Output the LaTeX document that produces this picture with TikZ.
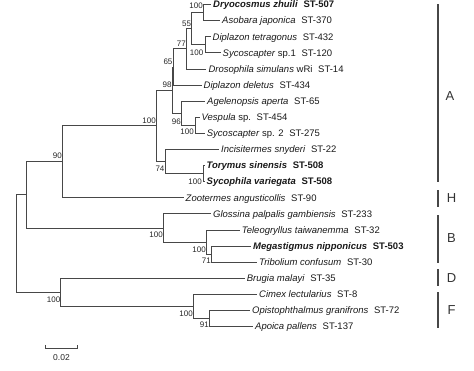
\documentclass[tikz,border=0pt]{standalone}
\usepackage{fontspec}
\setmainfont{Liberation Sans}
\newcommand\stgap{\hspace{0.6em}}
\begin{document}
\begin{tikzpicture}[x=1pt,y=-1pt,
  br/.style={draw=black!72, line width=0.8pt},
  leaf/.style={anchor=west, inner xsep=2pt, inner ysep=0pt, text height=6.6pt, text depth=0pt, font=\fontsize{9.5}{11}\selectfont, text=black!90},
  bleaf/.style={leaf, font=\fontsize{9.5}{11}\selectfont\bfseries},
  boot/.style={anchor=east, inner sep=0pt, font=\fontsize{8}{9}\selectfont, text=black!85},
  grp/.style={draw=black!72, line width=1.6pt},
  glab/.style={font=\fontsize{13}{15}\selectfont, text=black!80, inner sep=0pt}]
\useasboundingbox (0,0) rectangle (474,370);

% leaves
\node[bleaf] (L1)  at (211,4.5)   {\textit{Dryocosmus zhuili}\stgap ST-507};
\node[leaf]  (L2)  at (220,20.6)  {\textit{Asobara japonica}\stgap ST-370};
\node[leaf]  (L3)  at (210.5,36.7){\textit{Diplazon tetragonus}\stgap ST-432};
\node[leaf]  (L4)  at (220.5,52.8){\textit{Sycoscapter} sp.1\stgap ST-120};
\node[leaf]  (L5)  at (206.3,68.9){\textit{Drosophila simulans} wRi\stgap ST-14};
\node[leaf]  (L6)  at (201.5,85.0){\textit{Diplazon deletus}\stgap ST-434};
\node[leaf]  (L7)  at (205,101.1) {\textit{Agelenopsis aperta}\stgap ST-65};
\node[leaf]  (L8)  at (199.5,117.2){\textit{Vespula} sp.\stgap ST-454};
\node[leaf]  (L9)  at (204.7,133.3){\textit{Sycoscapter} sp. 2\stgap ST-275};
\node[leaf]  (L10) at (219,149.4) {\textit{Incisitermes snyderi}\stgap ST-22};
\node[bleaf] (L11) at (204.5,165.5){\textit{Torymus sinensis}\stgap ST-508};
\node[bleaf] (L12) at (204.5,181.6){\textit{Sycophila variegata}\stgap ST-508};
\node[leaf]  (L13) at (183.5,197.7){\textit{Zootermes angusticollis}\stgap ST-90};
\node[leaf]  (L14) at (211,213.8) {\textit{Glossina palpalis gambiensis}\stgap ST-233};
\node[leaf]  (L15) at (239.7,229.9){\textit{Teleogryllus taiwanemma}\stgap ST-32};
\node[bleaf] (L16) at (251,246.0) {\textit{Megastigmus nipponicus}\stgap ST-503};
\node[leaf]  (L17) at (257,262.1) {\textit{Tribolium confusum}\stgap ST-30};
\node[leaf]  (L18) at (244.7,278.2){\textit{Brugia malayi}\stgap ST-35};
\node[leaf]  (L19) at (257,294.3) {\textit{Cimex lectularius}\stgap ST-8};
\node[leaf]  (L20) at (250,310.4) {\textit{Opistophthalmus granifrons}\stgap ST-72};
\node[leaf]  (L21) at (253,326.5) {\textit{Apoica pallens}\stgap ST-137};

% internal nodes
\coordinate (A1)    at (203.3,12.55);
\coordinate (A2)    at (205,44.75);
\coordinate (n55)   at (191.7,28.65);
\coordinate (n77)   at (186.7,48.8);
\coordinate (n65)   at (173.2,66.9);
\coordinate (n100b) at (195,125.25);
\coordinate (n96)   at (181.7,113.2);
\coordinate (n98)   at (172.4,90.05);
\coordinate (n100c) at (203.3,173.55);
\coordinate (n74)   at (165,161.5);
\coordinate (nA)    at (156,125.8);
\coordinate (n90)   at (62.7,161.75);
\coordinate (nB3)   at (211.7,254.05);
\coordinate (nB2)   at (206.7,242);
\coordinate (nB)    at (163.3,227.9);
\coordinate (nAHB)  at (26.7,194.8);
\coordinate (nF2)   at (209.3,318.45);
\coordinate (nF)    at (193.3,306.4);
\coordinate (nDF)   at (60.7,292.3);
\coordinate (root)  at (16.7,243.5);

% branches
\draw[br] (root) |- (nAHB);  \draw[br] (root) |- (nDF);
\draw[br] (nAHB) |- (n90);   \draw[br] (nAHB) |- (nB);
\draw[br] (n90) |- (nA);     \draw[br] (n90) |- (L13);
\draw[br] (nA) |- (n98);     \draw[br] (nA) |- (n74);
\draw[br] (n98) |- (n65);    \draw[br] (n98) |- (n96);
\draw[br] (n65) |- (n77);    \draw[br] (n65) |- (L6);
\draw[br] (n77) |- (n55);    \draw[br] (n77) |- (L5);
\draw[br] (n55) |- (A1);     \draw[br] (n55) |- (A2);
\draw[br] (A1) |- (L1);      \draw[br] (A1) |- (L2);
\draw[br] (A2) |- (L3);      \draw[br] (A2) |- (L4);
\draw[br] (n96) |- (L7);     \draw[br] (n96) |- (n100b);
\draw[br] (n100b) |- (L8);   \draw[br] (n100b) |- (L9);
\draw[br] (n74) |- (L10);    \draw[br] (n74) |- (n100c);
\draw[br] (n100c) |- (L11);  \draw[br] (n100c) |- (L12);
\draw[br] (nB) |- (L14);     \draw[br] (nB) |- (nB2);
\draw[br] (nB2) |- (L15);    \draw[br] (nB2) |- (nB3);
\draw[br] (nB3) |- (L16);    \draw[br] (nB3) |- (L17);
\draw[br] (nDF) |- (L18);    \draw[br] (nDF) |- (nF);
\draw[br] (nF) |- (L19);     \draw[br] (nF) |- (nF2);
\draw[br] (nF2) |- (L20);    \draw[br] (nF2) |- (L21);

% bootstrap values
\node[boot] (bA1)   at (203,6.2)   {100};
\node[boot] (b55)   at (191.2,23.6){55};
\node[boot] (bA2)   at (203.5,53)  {100};
\node[boot] (b77)   at (186,43.5)  {77};
\node[boot] (b65)   at (172.6,61.6){65};
\node[boot] (b98)   at (171.8,84.6){98};
\node[boot] (bA)    at (156,120.8) {100};
\node[boot] (b96)   at (181,121.3) {96};
\node[boot] (b100b) at (194,132)   {100};
\node[boot] (b74)   at (164.6,169) {74};
\node[boot] (b100c) at (202,181.8) {100};
\node[boot] (b90)   at (62,155.5)  {90};
\node[boot] (bB)    at (163,235)   {100};
\node[boot] (bB2)   at (206,249.3) {100};
\node[boot] (bB3)   at (211,261)   {71};
\node[boot] (bDF)   at (60.5,300)  {100};
\node[boot] (bF)    at (193,313.3) {100};
\node[boot] (bF2)   at (209,325)   {91};

% scale bar
\coordinate (s0) at (45.7,344.8);
\coordinate (s1) at (45.7,348.3);
\coordinate (s2) at (77.3,348.3);
\coordinate (s3) at (77.3,344.8);
\draw[br, line width=0.7pt] (s0) -- (s1) -- (s2) -- (s3);
\node[inner sep=0pt, font=\fontsize{8.5}{10}\selectfont, text=black!85] (sl) at (61.5,357.5) {0.02};

% group bars
\coordinate (gA1) at (438,4);   \coordinate (gA2) at (438,182);
\coordinate (gH1) at (438,190); \coordinate (gH2) at (438,207);
\coordinate (gB1) at (438,215); \coordinate (gB2) at (438,263);
\coordinate (gD1) at (438,269); \coordinate (gD2) at (438,286);
\coordinate (gF1) at (438,292); \coordinate (gF2) at (438,328);
\draw[grp] (gA1) -- (gA2);
\draw[grp] (gH1) -- (gH2);
\draw[grp] (gB1) -- (gB2);
\draw[grp] (gD1) -- (gD2);
\draw[grp] (gF1) -- (gF2);
\node[glab] (tA) at (450,96)    {A};
\node[glab] (tH) at (451.5,198.5) {H};
\node[glab] (tB) at (451.5,238.5) {B};
\node[glab] (tD) at (451.5,277.7) {D};
\node[glab] (tF) at (451.5,310)   {F};
\end{tikzpicture}
\end{document}
